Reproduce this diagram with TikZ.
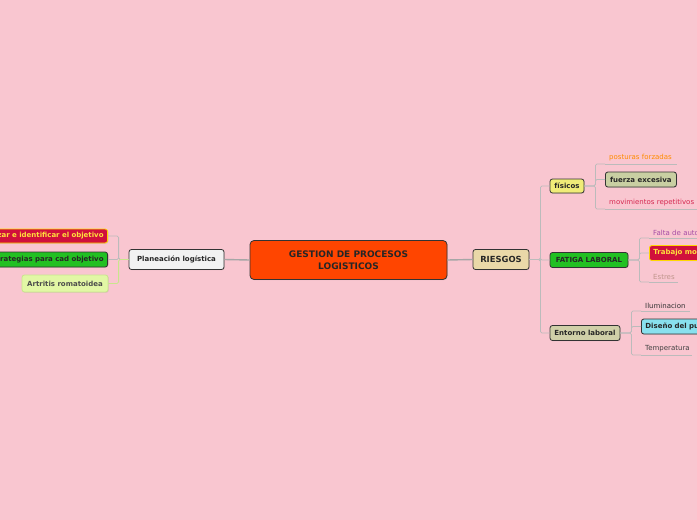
\documentclass[tikz,border=0pt]{standalone}
\usepackage{fontspec}
\usepackage{xcolor}
\usepackage{tikz}
\usetikzlibrary{arrows,shadows}
\newfontfamily\mmfont{DejaVu Sans}

\definecolor{bgpink}{RGB}{249,198,208}
\definecolor{rootred}{RGB}{255,69,0}
\definecolor{tan}{RGB}{234,216,168}
\definecolor{crimson}{RGB}{208,16,60}
\definecolor{goldline}{RGB}{255,215,0}
\definecolor{goldtext}{RGB}{255,225,60}
\definecolor{leafgreen}{RGB}{34,192,34}
\definecolor{palegreen}{RGB}{226,247,165}
\definecolor{palegreenline}{RGB}{200,230,140}
\definecolor{softyellow}{RGB}{240,236,120}
\definecolor{olive}{RGB}{201,207,162}
\definecolor{oliveb}{RGB}{208,208,168}
\definecolor{cyanbox}{RGB}{136,224,238}
\definecolor{linkgray}{RGB}{187,187,187}
\definecolor{mutedbrown}{RGB}{192,150,140}

\begin{document}
\begin{tikzpicture}[x=1pt,y=-1pt,
      main node/.style={draw=black!80,line width=0.8pt,rounded corners=2.5pt,
        font=\mmfont\bfseries\fontsize{7.0}{8}\selectfont,text=black!85,
        inner sep=0pt,minimum height=15pt,
        drop shadow={shadow xshift=0.7pt,shadow yshift=-0.7pt,opacity=0.25}},
      leaf node/.style={font=\mmfont\fontsize{7.0}{8}\selectfont,
        inner xsep=4pt,inner ysep=2.5pt,align=left,anchor=south west},
      link/.style={draw=linkgray,line width=0.8pt},
      fork/.style={link,rounded corners=1.5pt,
        to path={(\tikztostart) -- ++(#1,0) |- (\tikztotarget) \tikztonodes}}]

      \useasboundingbox (0,0) rectangle (697,520);
      \clip (0,0) rectangle (697,520);
      \fill[bgpink] (0,0) rectangle (697,520);

      % centre and first level
      \node[main node,fill=rootred,minimum width=197pt,minimum height=39pt,
        align=center,font=\mmfont\bfseries\fontsize{9.0}{12}\selectfont,
        rounded corners=4pt] (root) at (348.5,260) {GESTION DE PROCESOS\\LOGISTICOS};
      \node[main node,fill=tan,minimum width=56pt,minimum height=20pt,
        font=\mmfont\bfseries\fontsize{8.4}{9}\selectfont] (riesgos) at (501,259.5) {RIESGOS};
      \node[main node,fill=black!5,minimum width=95pt,minimum height=20pt] (plan) at (176.5,259.5) {Planeación logística};

      % left branch
      \node[main node,fill=crimson,draw=goldline,text=goldtext,anchor=east,
        text width=150pt,align=right,inner xsep=4pt,minimum height=14pt] (objetivo) at (108,236) {zar e identificar el objetivo};
      \node[main node,fill=leafgreen,anchor=east,text width=150pt,align=right,
        inner xsep=4pt] (estrategias) at (108,259.5) {trategias para cad objetivo};
      \node[main node,fill=palegreen,draw=palegreenline,text=black!70,
        minimum width=86pt,minimum height=17pt] (artritis) at (65,283.5) {Artritis romatoidea};

      % right branch
      \node[main node,fill=softyellow,minimum width=34pt,minimum height=14pt] (fisicos) at (567,186) {físicos};
      \node[main node,fill=leafgreen,minimum width=78pt] (fatiga) at (589,260) {FATIGA LABORAL};
      \node[main node,fill=oliveb,minimum width=70pt] (entorno) at (585,333) {Entorno laboral};

      \node[leaf node,text=orange!90!yellow,text width=64pt] (posturas) at (605,164) {posturas forzadas};
      \node[main node,fill=olive,minimum width=71pt,anchor=west] (fuerza) at (605,179.5) {fuerza excesiva};
      \node[leaf node,text=crimson!90!white,text width=90pt] (movimientos) at (605,209) {movimientos repetitivos};

      \node[leaf node,text=violet!70!white,text width=60pt] (falta) at (649,238) {Falta de auto};
      \node[main node,fill=crimson,draw=goldline,text=goldtext,anchor=west,
        text width=70pt,align=left,inner xsep=4pt] (trabajo) at (649,253) {Trabajo mo};
      \node[leaf node,text=mutedbrown,text width=21pt] (estres) at (649,282) {Estres};

      \node[leaf node,text=black!80,text width=41pt] (iluminacion) at (641,311) {Iluminacion};
      \node[main node,fill=cyanbox,anchor=west,text width=70pt,align=left,
        inner xsep=4pt] (diseno) at (641,326.5) {Diseño del pu};
      \node[leaf node,text=black!75,text width=43pt] (temperatura) at (641,355) {Temperatura};

      % connectors
      \path[link,line width=1.4pt,draw=black!35]
      (root.east) edge (riesgos.west)
      (root.west) edge (plan.east);

      \path
      (plan.west) edge [fork=-10] (objetivo.east)
      (plan.west) edge [fork=-10] (estrategias.east)
      (plan.west) edge [fork=-10,draw=palegreenline] (artritis.east)
      (riesgos.east) edge [fork=11] (fisicos.west)
      (riesgos.east) edge [fork=11] (fatiga.west)
      (riesgos.east) edge [fork=11] (entorno.west)
      (fisicos.east) edge [fork=11] (posturas.south west)
      (fisicos.east) edge [fork=11] (fuerza.west)
      (fisicos.east) edge [fork=11] (movimientos.south west)
      (fatiga.east) edge [fork=11] (falta.south west)
      (fatiga.east) edge [fork=11] (trabajo.west)
      (fatiga.east) edge [fork=11] (estres.south west)
      (entorno.east) edge [fork=11] (iluminacion.south west)
      (entorno.east) edge [fork=11] (diseno.west)
      (entorno.east) edge [fork=11] (temperatura.south west);

      \path
      (posturas.south west) edge [link] (posturas.south east)
      (movimientos.south west) edge [link] (movimientos.south east)
      (falta.south west) edge [link] (falta.south east)
      (estres.south west) edge [link] (estres.south east)
      (iluminacion.south west) edge [link] (iluminacion.south east)
      (temperatura.south west) edge [link] (temperatura.south east);
    \end{tikzpicture}
\end{document}
